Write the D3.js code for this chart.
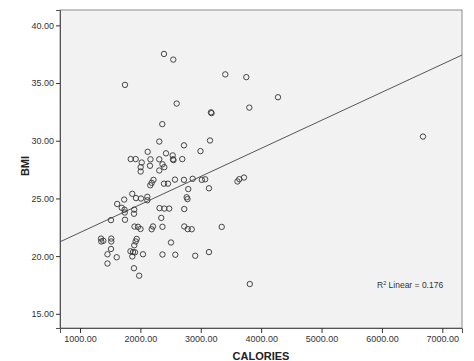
<!DOCTYPE html>
<html><head><meta charset="utf-8">
<script src="https://cdn.jsdelivr.net/npm/d3@7"></script>
<style>body{margin:0;background:#fff;}svg{display:block;font-family:"Liberation Sans",Arial,sans-serif;}</style>
</head><body>
<svg id="chart" width="474" height="361"></svg>
<script>
const calories = [2391,2545,3406,3754,1745,4279,2601,3804,3169,3178,2363,2313,3153,2722,2995,2121,2424,2535,2540,2548,2694,1840,1922,2022,2167,2313,2366,2159,2396,2313,2005,2005,2217,2187,2164,2391,2457,2573,2722,2866,3017,3073,3608,3638,3716,2793,3136,2767,2780,2726,1866,1927,2010,2115,2115,1732,1616,1691,1737,1742,1898,1894,2317,2396,2477,1513,1745,2346,1903,1960,2002,2209,2187,2366,2727,2784,2850,3347,1348,1386,1352,1518,1518,1939,1922,1899,2507,1513,1455,1608,1836,1878,1911,1866,2043,2366,2578,2908,3136,1455,1894,1980,3812,6680];
const bmi = [37.52,37.03,35.75,35.51,34.84,33.77,33.22,32.87,32.46,32.39,31.44,29.93,30.02,29.60,29.10,29.04,28.91,28.73,28.39,28.32,28.41,28.41,28.41,28.11,28.39,28.39,27.96,27.83,27.71,27.42,27.71,27.33,26.61,26.35,26.14,26.28,26.28,26.63,26.61,26.70,26.61,26.66,26.47,26.67,26.81,25.81,25.88,25.10,24.94,24.08,25.40,25.03,24.99,25.14,24.84,24.90,24.52,24.19,24.02,23.78,24.03,23.67,24.16,24.12,24.12,23.12,23.15,23.31,22.56,22.54,22.35,22.57,22.33,22.54,22.57,22.34,22.33,22.53,21.52,21.33,21.27,21.52,21.27,21.49,21.27,20.94,21.18,20.62,20.16,19.90,20.42,20.35,20.33,19.97,20.16,20.14,20.12,20.03,20.35,19.36,18.95,18.30,17.58,30.36];
const xTicks = [1000,2000,3000,4000,5000,6000,7000];
const yTicks = [15,20,25,30,35,40];
const fitIntercept = 19.61, fitSlope = 0.002432;
const rSquared = 0.176;

const svg = d3.select("#chart");
const L = 60, R = 462, T = 10, B = 328;
const x = d3.scaleLinear().domain([669, 7326]).range([L, R]);
const y = d3.scaleLinear().domain([13.77, 41.33]).range([B, T]);
const fmt = d3.format(".2f");

svg.append("rect").attr("x", L).attr("y", T).attr("width", R - L).attr("height", B - T)
  .attr("fill", "#f2f2f2").attr("stroke", "#8c8c8c").attr("stroke-width", 1);

const xa = svg.append("g").attr("transform", `translate(0,${B})`)
  .call(d3.axisBottom(x).tickValues(xTicks).tickFormat(fmt).tickSize(5).tickPadding(3));
const ya = svg.append("g").attr("transform", `translate(${L},0)`)
  .call(d3.axisLeft(y).tickValues(yTicks).tickFormat(fmt).tickSize(4).tickPadding(2));
[xa, ya].forEach(a => {
  a.select(".domain").attr("stroke", "#555");
  a.selectAll(".tick line").attr("stroke", "#333");
  a.selectAll(".tick text").attr("fill", "#333").attr("font-size", "9px")
    .attr("font-family", "'Liberation Sans', Arial, sans-serif");
});

const plot = svg.append("g");
const x0 = x.domain()[0], x1 = x.domain()[1];
plot.append("line")
  .attr("x1", x(x0)).attr("y1", y(fitIntercept + fitSlope * x0))
  .attr("x2", x(x1)).attr("y2", y(fitIntercept + fitSlope * x1))
  .attr("stroke", "#444").attr("stroke-width", 0.9);

plot.selectAll("circle").data(calories.map((c, i) => [c, bmi[i]])).enter().append("circle")
  .attr("cx", d => x(d[0])).attr("cy", d => y(d[1])).attr("r", 2.7)
  .attr("fill", "none").attr("stroke", "#333").attr("stroke-width", 0.9);

const rt = svg.append("text").attr("x", 377).attr("y", 288).attr("font-size", "8.5px").attr("fill", "#333");
rt.append("tspan").text("R");
rt.append("tspan").attr("dy", -3).attr("font-size", "5.5px").text("2");
rt.append("tspan").attr("dy", 3).text(" Linear = " + d3.format(".3f")(rSquared));

svg.append("text").attr("x", (L + R) / 2).attr("y", 360).attr("text-anchor", "middle")
  .attr("font-weight", "bold").attr("font-size", "11px").attr("fill", "#222").text("CALORIES");
svg.append("text").attr("transform", `translate(29,${(T + B) / 2 - 3}) rotate(-90)`)
  .attr("text-anchor", "middle").attr("font-weight", "bold").attr("font-size", "11px")
  .attr("fill", "#222").text("BMI");
</script>
</body></html>
